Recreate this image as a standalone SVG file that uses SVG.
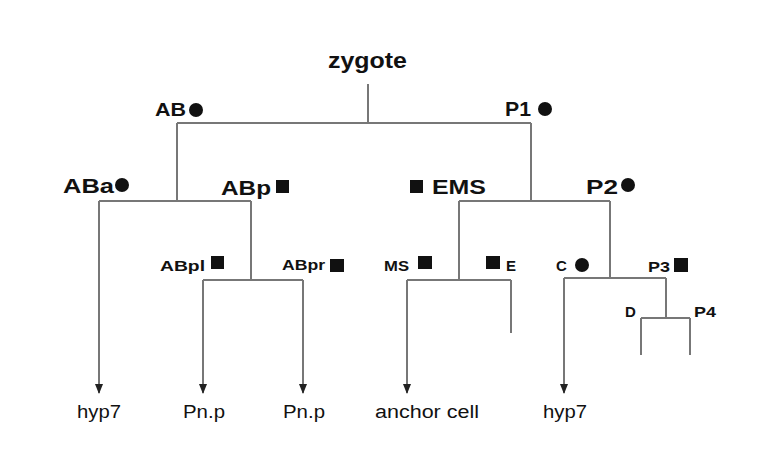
<svg xmlns="http://www.w3.org/2000/svg" width="776" height="472" viewBox="0 0 776 472">
<defs>
<marker id="a" markerWidth="10" markerHeight="10" refX="9" refY="5" orient="auto" markerUnits="userSpaceOnUse" viewBox="0 0 10 10"><path d="M0,1 L10,5 L0,9 Z" fill="#222"/></marker>
<style>
.l{stroke:#777;stroke-width:2;fill:none}
.b{font-family:"Liberation Sans",Arial,sans-serif;font-weight:bold;fill:#111}
.r{font-family:"Liberation Sans",Arial,sans-serif;font-size:18px;fill:#111}
.m{fill:#111}
</style>
</defs>
<rect width="776" height="472" fill="#fff"/>
<g id="connectors">
<path class="l" d="M368,84V123M177,123H531M177,123V201M99,201H251M531,123V201M459,201H610"/>
<path class="l" d="M251,201V280M203,280H303M459,201V280M407,280H511M511,280V333M610,201V278M564,278H666M666,278V318M641,318H690M641,318V355M690,318V355"/>
<path class="l" marker-end="url(#a)" d="M99,201V393"/>
<path class="l" marker-end="url(#a)" d="M203,280V393"/>
<path class="l" marker-end="url(#a)" d="M303,280V393"/>
<path class="l" marker-end="url(#a)" d="M407,280V393"/>
<path class="l" marker-end="url(#a)" d="M564,278V393"/>
</g>
<g id="zygote"><text class="b" x="328" y="68" font-size="22" textLength="79" lengthAdjust="spacingAndGlyphs">zygote</text></g>
<g id="AB"><text class="b" x="155" y="116" font-size="18" textLength="31" lengthAdjust="spacingAndGlyphs">AB</text><circle class="m" cx="196" cy="110" r="7"/></g>
<g id="P1"><text class="b" x="505" y="116" font-size="21" textLength="26" lengthAdjust="spacingAndGlyphs">P1</text><circle class="m" cx="545" cy="109" r="7"/></g>
<g id="ABa"><text class="b" x="63" y="193" font-size="21" textLength="51" lengthAdjust="spacingAndGlyphs">ABa</text><circle class="m" cx="122" cy="185" r="7"/></g>
<g id="ABp"><text class="b" x="221" y="195" font-size="21" textLength="50" lengthAdjust="spacingAndGlyphs">ABp</text><rect class="m" x="276" y="180" width="13" height="13"/></g>
<g id="EMS"><rect class="m" x="410" y="180" width="13" height="13"/><text class="b" x="432" y="194" font-size="21" textLength="54" lengthAdjust="spacingAndGlyphs">EMS</text></g>
<g id="P2"><text class="b" x="586" y="194" font-size="21" textLength="32" lengthAdjust="spacingAndGlyphs">P2</text><circle class="m" cx="628" cy="185" r="7"/></g>
<g id="ABpl"><text class="b" x="160" y="271" font-size="15" textLength="45" lengthAdjust="spacingAndGlyphs">ABpl</text><rect class="m" x="211" y="256" width="13" height="13"/></g>
<g id="ABpr"><text class="b" x="282" y="270" font-size="15" textLength="43" lengthAdjust="spacingAndGlyphs">ABpr</text><rect class="m" x="330" y="259" width="14" height="13"/></g>
<g id="MS"><text class="b" x="384" y="271" font-size="15" textLength="25" lengthAdjust="spacingAndGlyphs">MS</text><rect class="m" x="418" y="256" width="14" height="13"/></g>
<g id="E"><rect class="m" x="486" y="256" width="14" height="13"/><text class="b" x="506" y="271" font-size="15">E</text></g>
<g id="C"><text class="b" x="556" y="271" font-size="15">C</text><circle class="m" cx="582" cy="265" r="7"/></g>
<g id="P3"><text class="b" x="648" y="272" font-size="15" textLength="22" lengthAdjust="spacingAndGlyphs">P3</text><rect class="m" x="674" y="258" width="14" height="14"/></g>
<g id="D"><text class="b" x="625" y="317" font-size="15">D</text></g>
<g id="P4"><text class="b" x="694" y="317" font-size="15" textLength="22" lengthAdjust="spacingAndGlyphs">P4</text></g>
<g id="hyp7a"><text class="r" x="77" y="418" textLength="44" lengthAdjust="spacingAndGlyphs">hyp7</text></g>
<g id="Pnp1"><text class="r" x="183" y="418" textLength="42" lengthAdjust="spacingAndGlyphs">Pn.p</text></g>
<g id="Pnp2"><text class="r" x="283" y="418" textLength="42" lengthAdjust="spacingAndGlyphs">Pn.p</text></g>
<g id="anchor"><text class="r" x="375" y="418" textLength="104" lengthAdjust="spacingAndGlyphs">anchor cell</text></g>
<g id="hyp7b"><text class="r" x="543" y="418" textLength="44" lengthAdjust="spacingAndGlyphs">hyp7</text></g>
</svg>
